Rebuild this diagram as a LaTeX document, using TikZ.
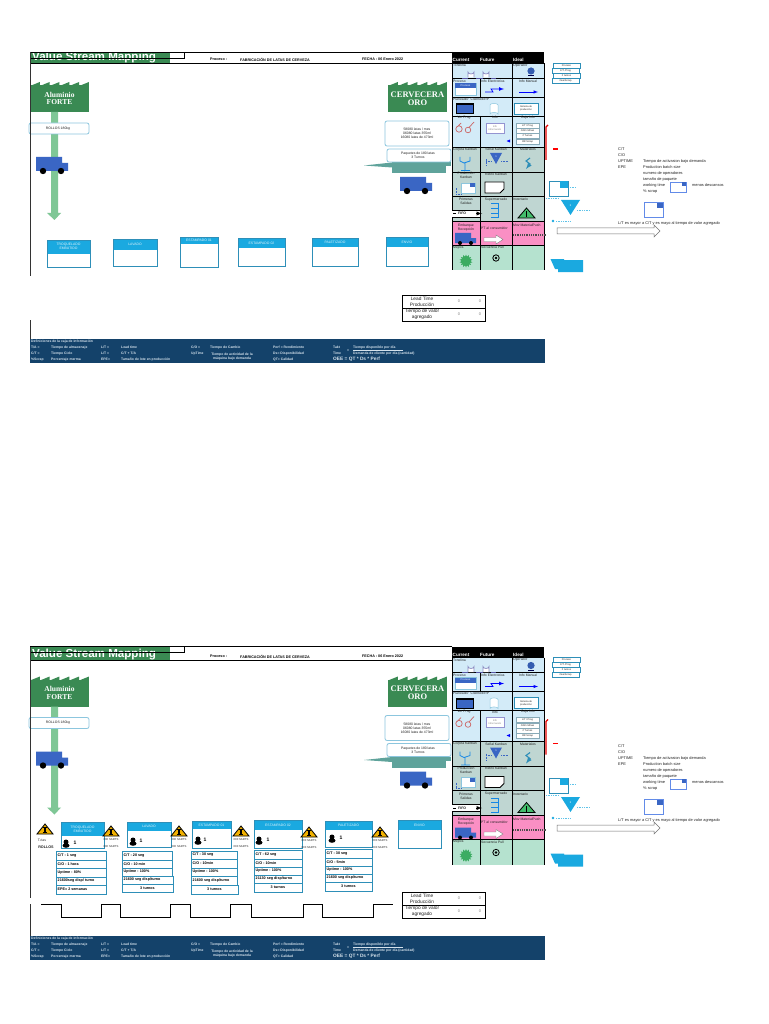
\documentclass[tikz,border=0pt]{standalone}
\usepackage{fontspec}
\setmainfont{Liberation Sans}
\newfontfamily\serifF{Liberation Serif}
\usetikzlibrary{shapes.geometric}
\definecolor{fgreen}{HTML}{3A8A53}
\definecolor{agreen}{HTML}{7FC796}
\definecolor{tblue}{HTML}{3A66C4}
\definecolor{hdr}{HTML}{1AA9E0}
\definecolor{pbd}{HTML}{2E8FB8}
\definecolor{lbd}{HTML}{8CC6DE}
\definecolor{teal}{HTML}{5FA39B}
\definecolor{navy}{HTML}{14426A}
\definecolor{rowa}{HTML}{D3EBF8}
\definecolor{rowb}{HTML}{BFD6D2}
\definecolor{rowc}{HTML}{FA8FC4}
\definecolor{rowd}{HTML}{B5E2CF}
\definecolor{ink}{HTML}{222222}
\definecolor{navt}{HTML}{D5E2EC}
\definecolor{inv}{HTML}{F2B200}
\newcounter{nc}
\newcommand\Lb[4]{\stepcounter{nc}\node[#1] (t\arabic{nc}) at ({#2},{#3}) {#4};}
\tikzset{
 lw/.style={anchor=west,inner sep=0pt,text=ink},
 lc/.style={anchor=center,inner sep=0pt,align=center,text=ink},
 fa/.style={font=\fontsize{3.4}{4}\selectfont},
 fb/.style={font=\fontsize{3.9}{4.6}\selectfont},
 fc/.style={font=\fontsize{4.8}{6}\selectfont},
 bb/.style={font=\bfseries\fontsize{3.7}{4.2}\selectfont},
 nt/.style={anchor=west,inner sep=0pt,text=navt,font=\bfseries\fontsize{3.4}{4}\selectfont},
 grid/.style={draw=black,line width=0.8pt},
 pbox/.style={draw=pbd,line width=0.8pt},
 rbox/.style={draw=lbd,line width=0.8pt,fill=white,rounded corners=2pt},
 dbox/.style={draw=pbd,line width=0.8pt,fill=white},
}
% truck: top-left x,y
\newcommand\truck[2]{%
 \fill[tblue] (#1,#2) -- ++(26,0) -- ++(0,6) -- ++(6,0) -- ++(0,8) -- ++(-32,0) -- cycle;
 \fill[black] (#1+7,#2+14) circle (3.2) (#1+25,#2+14) circle (3.2);
}
% factory
\newcommand\factory[4]{%
 \fill[fgreen] (#1,85.5) rectangle (#1+59,112);
 \foreach \i in {0,...,5}{\fill[fgreen] (#1+\i*9.83,86) -- (#1+\i*9.83+9.83,82) -- (#1+\i*9.83+9.83,86) -- cycle;}
 \Lb{lc,text=white,font=\serifF\bfseries\fontsize{#4}{8}\selectfont}{#1+29.5}{94.5}{#2}
 \Lb{lc,text=white,font=\serifF\bfseries\fontsize{#4}{8}\selectfont}{#1+29.5}{102.5}{#3}
}
\newcommand\procbox[6]{%
 \fill[white] (#1,#2) rectangle (#3,#4);
 \fill[hdr] (#1,#2) rectangle (#3,#5);
 \draw[pbox] (#1,#2) rectangle (#3,#4);
 \Lb{lc,text=white!85!hdr,fa}{(#1+#3)/2}{(#2+#5)/2}{#6}
}
\newcommand\invt[2]{%
 \fill[inv,draw=black,line width=0.8pt] (#1-8,#2+10) -- (#1,#2) -- (#1+8,#2+10) -- cycle;
 \fill[black] (#1-0.8,#2+3.5) rectangle (#1+0.8,#2+9);
 \fill[black] (#1-2.2,#2+3.2) rectangle (#1+2.2,#2+4.2);
 \fill[black] (#1-2.2,#2+8.2) rectangle (#1+2.2,#2+9.2);
}
\newcommand\oper[3]{%
 \fill[black] (#1,#2-1) circle (2.5);
 \fill[black] (#1,#2+2.6) ellipse (3.5 and 2.2);
 \Lb{lc,font=\bfseries\fontsize{5}{6}\selectfont,text=black}{#3}{#2}{1}
}
\newcommand\dr[5]{%
 \draw[dbox] (#1,#3) rectangle (#2,#4);
 \Lb{lw,text=black,bb}{#1+1.5}{(#3+#4)/2}{#5}
}
\newcommand\drc[5]{%
 \draw[dbox] (#1,#3) rectangle (#2,#4);
 \Lb{lc,text=black,bb}{(#1+#2)/2}{(#3+#4)/2}{#5}
}
% page base
\newcommand\pagebase[2]{%
 \fill[fgreen] (30,52) rectangle (170,#1);
 \begin{scope}
  \clip (30,52) rectangle (184,#1);
  \Lb{anchor=base west,inner sep=0pt,text=white,font=\bfseries\fontsize{11.6}{12}\selectfont}{32}{#2}{Value Stream Mapping}
 \end{scope}
 \draw[black,line width=0.8pt] (30,52) rectangle (184,58);
 \draw[black,line width=0.9pt] (30,52) -- (452,52) (30,#1) -- (452,#1);
 \Lb{lw,text=black,bb}{210}{#1-3.3}{Proceso :}
 \Lb{lw,text=black,bb}{240}{#1-3.3}{FABRICACIÓN DE LATAS DE CERVEZA}
 \Lb{lw,text=black,bb}{362}{#1-3.3}{FECHA : 06 Enero 2022}
 \factory{30}{Aluminio}{FORTE}{7.5}
 \factory{388}{CERVECERA}{ORO}{8.5}
 \fill[agreen] (51,112) -- (58,112) -- (58,213) -- (61,213) -- (54.5,220) -- (47,213) -- (51,213) -- cycle;
 \draw[rbox] (29,123) rectangle (89,134);
 \Lb{lc,fa}{58}{128.5}{ROLLOS 180kg}
 \truck{36}{157}
 \draw[rbox] (385,121) rectangle (449,146);
 \Lb{lc,fa}{417}{133.5}{58080 latas / mes\\06080 latas 355ml\\16080 latas de 473ml}
 \fill[teal] (392,162) rectangle (446,173);
 \fill[teal] (364,165.5) -- (392,162.5) -- (392,167.5) -- cycle;
 \fill[teal] (446,162) rectangle (451,166);
 \draw[rbox] (387,149) rectangle (451,162);
 \Lb{lc,fa}{418}{155.5}{Paquetes de 180 latas\\3 Turnos}
 \truck{400}{177}
}
% legend table
\newcommand\legend{%
 \fill[rowa] (452,63) rectangle (544,147);
 \fill[rowb] (452,147) rectangle (544,221);
 \fill[rowc] (452,221) rectangle (544,245);
 \fill[rowd] (452,245) rectangle (544,270);
 \fill[black] (452,52) rectangle (544,63);
 \foreach \yy in {63,78,97,116,147,172,196,221,245}{\draw[grid] (452,\yy) -- (544,\yy);}
 \draw[grid] (452,52) -- (452,270) (512,63) -- (512,270) (544,63) -- (544,270) (480,78) -- (480,97) (480,116) -- (480,270);
 \Lb{lw,text=white,font=\bfseries\fontsize{4.6}{5}\selectfont}{452.5}{60}{Current}
 \Lb{lw,text=white,font=\bfseries\fontsize{4.6}{5}\selectfont}{480}{60}{Future}
 \Lb{lw,text=white,font=\bfseries\fontsize{4.6}{5}\selectfont}{513}{60}{Ideal}
 \Lb{lw,fa}{453}{65.5}{Tonelina}
 \Lb{lw,fa}{513}{65.5}{Operador}
 \draw[gray!70!blue,line width=0.4pt] (462,78) -- (468,78) (476,78) -- (483,78) (491,78) -- (496,78);
 \draw[gray!70!blue!70,line width=0.7pt,fill=white] (468,77.5) -- (468,72) arc (180:0:3 and 2) -- (474,77.5);
 \draw[gray!70!blue!70,line width=0.7pt,fill=white] (483,77.5) -- (483,72) arc (180:0:3 and 2) -- (489,77.5);
 \fill[tblue!90!black] (531,71) circle (3.6);
 \fill[black!70!blue] (528,75.2) rectangle (534,76.5);
 \Lb{lw,fa}{453}{81}{Proceso}
 \Lb{lw,fa}{481}{81}{Info Electronica}
 \Lb{lw,fa}{519}{81}{Info Manual}
 \draw[lbd,fill=white,line width=0.5pt] (455,83) rectangle (476,95);
 \fill[tblue] (455,83) rectangle (476,88);
 \Lb{lc,text=white,font=\fontsize{2.6}{3}\selectfont}{465.5}{85.5}{Proceso}
 \draw[blue,line width=0.7pt,-latex] (485,92) -- (493,92) -- (491,89) -- (504,89);
 \draw[blue,line width=0.5pt,-latex] (519,92) -- (538,92);
 \Lb{lw,fa}{453}{99}{Planeador\ \ Cliente/ERP}
 \fill[black] (456,103) rectangle (474,114.5);
 \fill[tblue] (457,105) rectangle (473,113.5);
 \draw[lbd,fill=white,line width=0.5pt] (490,105) -- (490,114) arc (180:360:4 and 1.6) -- (498,105) arc (0:180:4 and -1.6) -- cycle;
 \draw[pbd,fill=white,line width=0.6pt] (514,103) rectangle (538,114);
 \Lb{lc,font=\fontsize{2.4}{2.9}\selectfont}{526}{108.5}{Sistema de\\producción}
 \Lb{lc,fa}{464}{117.5}{Ver Prog}
 \Lb{lc,fa}{495}{117.5}{Info}
 \Lb{lc,fa}{528}{117.5}{Caja Info}
 \draw[red!50!gray!80,line width=0.7pt] (459,129) circle (3.2) (468,130) circle (2.8) (457,127) -- (461,123) (469,127.5) -- (474,122);
 \draw[gray!60!blue!60,fill=white,line width=0.7pt] (486,123) rectangle (504,133);
 \Lb{lc,font=\fontsize{2.4}{2.9}\selectfont,text=gray}{495}{128}{Info\\Información}
 \fill[blue] (510,139.5) -- (506.5,141) -- (510,142.5) -- cycle;
 \foreach \yy/\lbl in {123/{L/T / Prog},128.3/{Cd/m Minas},133.5/{\# Turnos},138.8/{OR Scrap}}{
  \draw[lbd!60!gray,fill=white,line width=0.5pt] (516,\yy) rectangle (539,\yy+5.2);
  \Lb{lc,font=\fontsize{2.5}{3}\selectfont}{527.5}{\yy+2.6}{\lbl}
 }
 \Lb{lc,fa}{465}{149.5}{Corpita Kanban}
 \Lb{lc,fa}{496}{149.5}{Señal Kanban}
 \Lb{lc,fa}{528}{149.5}{Materiales}
 \draw[hdr!80!blue,line width=0.8pt] (460,157) -- (460,161) -- (464,163) -- (470,161) -- (470,157) (465,163) -- (465,170) (461,170.5) -- (470,170.5);
 \fill[tblue] (490,153) -- (502,153) -- (496,164) -- cycle;
 \draw[tblue,densely dotted,line width=0.5pt] (486,159) -- (486,166) (486,161) -- (491,161) (501,161) -- (508,161);
 \Lb{lc,text=white,font=\fontsize{2.6}{3}\selectfont}{496}{156.5}{1}
 \draw[pbd,line width=1.1pt,-latex] (530,158) -- (526,161) -- (530,164) -- (526,169);
 \Lb{lc,fa}{466}{175.5}{Producción\\Kanban}
 \Lb{lc,fa}{496}{174}{Retiro Kanban}
 \draw[lbd,fill=white,line width=0.7pt] (461,183) rectangle (475,193);
 \fill[tblue] (470,183) rectangle (475,187);
 \draw[tblue,densely dotted,line width=0.5pt] (456,188) -- (456,194) -- (461,194);
 \draw[black,fill=white,line width=0.9pt] (485,182) -- (504,182) -- (504,189) -- (500,193) -- (485,193) -- cycle;
 \Lb{lc,fa}{466}{201.5}{Primeras\\Salidas}
 \Lb{lc,fa}{496}{199.5}{Supermercado}
 \Lb{lw,fa}{513}{199.5}{Inventario}
 \fill[white] (452,210) rectangle (480,217);
 \draw[black,line width=0.9pt] (452,210) -- (480,210) (452,217) -- (480,217);
 \Lb{lw,font=\bfseries\fontsize{3.5}{4}\selectfont}{458}{213.5}{FIFO}
 \draw[black,line width=0.9pt,-latex] (476,213.5) -- (482,213.5);
 \draw[black,line width=0.9pt] (453,213.5) -- (456,213.5);
 \draw[hdr!80!blue,line width=0.9pt] (491,203.5) -- (498,203.5) -- (498,217.5) -- (491,217.5) (491,208) -- (498,208) (491,213) -- (498,213);
 \fill[teal!70!green,draw=black,line width=0.8pt] (518,218) -- (526.5,208) -- (535,218) -- cycle;
 \fill[black] (525.8,211) rectangle (527.2,217);
 \Lb{lc,fa}{466}{227.5}{Embarque\\Recepción}
 \Lb{lw,fa}{481}{228}{PT al consumidor}
 \Lb{lw,fa}{513}{225}{Mov Material\\Push}
 \fill[tblue] (455,233) -- (471,233) -- (471,238) -- (476,238) -- (476,243) -- (455,243) -- cycle;
 \fill[black] (460,243) circle (2) (471,243) circle (2);
 \draw[gray,fill=white,line width=0.4pt] (484,237.5) -- (496,237.5) -- (496,235) -- (503,239.5) -- (496,244) -- (496,241.5) -- (484,241.5) -- cycle;
 \draw[black!70,line width=2pt,dash pattern=on 1pt off 0.8pt] (513,235) -- (547,235);
 \Lb{lw,fa}{453}{247.5}{Mejora}
 \Lb{lw,fa}{481}{247.5}{Secuencia Pull}
 \stepcounter{nc}\node[star,star points=14,star point ratio=1.45,fill=teal!70!green!90!black,inner sep=0pt,minimum size=13pt] (t\arabic{nc}) at (466,261) {};
 \draw[black,line width=0.8pt] (496,258) circle (3.2);
 \fill[black] (496,258) circle (1.3);
 % right-of-table swatches
 \foreach \yy/\xx/\lbl in {63/553/Proceso,68/552/{C/T /Prog},73/553/{\# turnos},78/552/{Oee/Scrap}}{
  \draw[pbd,fill=white,line width=0.5pt] (\xx,\yy) rectangle (\xx+27,\yy+5);
  \Lb{lc,font=\fontsize{2.5}{3}\selectfont}{\xx+13.5}{\yy+2.5}{\lbl}
 }
 \draw[red!90!black,line width=1.1pt] (546,160) -- (546,127) -- (548,125);
 \fill[red] (553,148.5) rectangle (558,149.7);
 \fill[hdr] (550.5,259) -- (564,259) -- (564,260) -- (583,260) -- (583,272) -- (558,272) -- (558,269) -- (555,269) -- cycle;
}
% right-hand notes
\newcommand\notes{%
 \Lb{lw,fb}{618}{149}{C/T}
 \Lb{lw,fb}{618}{155}{C/O}
 \Lb{lw,fb}{618}{161}{UPTIME}
 \Lb{lw,fb}{618}{167}{EPE}
 \Lb{lw,fb}{643}{161}{Tiempo de activasion bajo demanda}
 \Lb{lw,fb}{643}{167}{Production batch size}
 \Lb{lw,fb}{643}{173}{numero de operadores}
 \Lb{lw,fb}{643}{179}{tamaño de paquete}
 \Lb{lw,fb}{643}{185}{working time}
 \Lb{lw,fb}{692}{185}{menos descansos}
 \Lb{lw,fb}{643}{191.5}{\% scrap}
 \draw[lbd!70!blue,fill=white,line width=0.5pt] (670,182) rectangle (686,192);
 \fill[tblue] (682,182) rectangle (686,186);
 \draw[lbd!70!blue,fill=white,line width=0.7pt] (644,202) rectangle (663,217);
 \fill[tblue] (657,203) rectangle (662.5,208);
 \draw[pbd,fill=white,line width=0.9pt] (549,181) rectangle (568,196);
 \fill[hdr] (560,181) rectangle (568,188);
 \draw[hdr!70,densely dotted,line width=0.7pt] (570,187) -- (576,187);
 \draw[hdr!70,densely dotted,line width=0.7pt] (546,198) -- (558,198);
 \fill[hdr] (561,200) -- (580,200) -- (570.5,215) -- cycle;
 \Lb{lc,text=white,font=\fontsize{3}{3.5}\selectfont}{570.5}{205}{1}
 \draw[hdr!70,densely dotted,line width=0.7pt] (577,210) -- (590,210);
 \fill[hdr] (553,221) circle (1.3);
 \draw[hdr!70,densely dotted,line width=0.7pt] (556,221) -- (570,221);
 \Lb{lw,fb}{618}{223}{L/T es mayor a C/T y es mayo al tiempo de valor agregado}
 \draw[black!55,fill=white,line width=0.5pt] (557,228) -- (654,228) -- (654,225) -- (660,231) -- (654,237) -- (654,234) -- (557,234) -- cycle;
}
\newcommand\leadtab{%
 \draw[black,line width=0.9pt,fill=white] (402,295) rectangle (485,321);
 \draw[black,line width=0.9pt] (402,308) -- (485,308);
 \Lb{lc,fc}{422}{301.5}{Lead Time\\Producción}
 \Lb{lc,fc}{422}{314.5}{Tiempo de valor\\agregado}
 \Lb{lc,fb,text=gray}{459}{301.5}{0}
 \Lb{lc,fb,text=gray}{480}{301.5}{0}
 \Lb{lc,fb,text=gray}{459}{314.5}{0}
 \Lb{lc,fb,text=gray}{480}{314.5}{0}
}
\newcommand\navyband{%
 \fill[navy] (30,339) rectangle (545,362.5);
 \Lb{nt}{31}{341.5}{Definiciones de la caja de información}
 \Lb{nt}{31}{347.5}{T/A =}\Lb{nt}{51}{347.5}{Tiempo de almacenaje}
 \Lb{nt}{101}{347.5}{L/T =}\Lb{nt}{121}{347.5}{Lead time}
 \Lb{nt}{191}{347.5}{C/O =}\Lb{nt}{210}{347.5}{Tiempo de Cambio}
 \Lb{nt}{273}{347.5}{Perf = Rendimiento}
 \Lb{nt}{333}{347.5}{Takt}\Lb{nt}{353}{347.5}{Tiempo disponible por día}
 \draw[navt,line width=0.3pt] (353,349.7) -- (403,349.7);
 \Lb{nt}{347}{350.5}{=}
 \Lb{nt}{31}{353.5}{C/T =}\Lb{nt}{51}{353.5}{Tiempo Ciclo}
 \Lb{nt}{101}{353.5}{L/T =}\Lb{nt}{121}{353.5}{C/T + T/A}
 \Lb{nt}{191}{353.5}{UpTime}
 \Lb{nt}{273}{353.5}{Ds= Disponibilidad}
 \Lb{nt}{333}{353.5}{Time}\Lb{nt}{353}{353.5}{Demanda de cliente por día (cantidad)}
 \Lb{nt}{31}{359.3}{\%Scrap}\Lb{nt}{51}{359.3}{Porcentaje merma}
 \Lb{nt}{101}{359.3}{EPE=}\Lb{nt}{121}{359.3}{Tamaño de lote en producción}
 \Lb{nt,align=center,anchor=center}{232}{356.3}{Tiempo de actividad de la\\máquina bajo demanda}
 \Lb{nt}{273}{359.3}{QT= Calidad}
 \Lb{nt,font=\bfseries\fontsize{4.8}{5}\selectfont}{333}{359.3}{OEE = QT * Ds * Perf}
}
\begin{document}
\begin{tikzpicture}[x=1pt,y=-1pt]
\useasboundingbox (0,0) rectangle (768,1024);
\fill[white] (0,0) rectangle (768,1024);
% ===== top page =====
\pagebase{63}{60.5}
\draw[black!80,line width=0.9pt] (30,52) -- (30,276) (30,320) -- (30,339);
\procbox{47}{240}{90}{267}{253.5}{TROQUELADO\\EMBUTIDO}
\procbox{113}{239}{157}{266}{250}{LAVADO}
\procbox{180}{237}{218}{267}{244}{ESTAMPADO 01}
\procbox{238}{238}{285}{266}{248}{ESTAMPADO 02}
\procbox{312}{238}{358}{266}{247}{PALETIZADO}
\procbox{386}{237}{428}{266}{247}{ENVIO}
\legend
\notes
\leadtab
\navyband
% ===== bottom page =====
\begin{scope}[shift={(0,594.5)}]
\pagebase{65.5}{62.5}
\legend
\end{scope}
\draw[black!80,line width=0.9pt] (30,647) -- (30,898) (30,904) -- (30,936);
\begin{scope}[shift={(0,597)}]
\notes
\leadtab
\navyband
\end{scope}
\procbox{61}{822}{104}{848}{836}{TROQUELADO\\EMBUTIDO}
\procbox{127}{822}{171}{847}{831}{LAVADO}
\procbox{192}{821}{231}{848}{829}{ESTAMPADO 01}
\procbox{254}{820}{302}{848}{830}{ESTAMPADO 02}
\procbox{325}{821}{372}{847}{830}{PALETIZADO}
\procbox{398}{820}{441}{848}{830}{ENVIO}
\invt{45}{824}\invt{111}{826}\invt{179}{826}\invt{241}{826}\invt{309}{827}\invt{380}{827}
\Lb{lc,fa}{42}{840}{T.rias}
\Lb{lc,bb}{46}{847}{ROLLOS}
\foreach \xx/\yy in {111/840,179/840,241/840,309/841,380/841}{
 \Lb{lc,font=\fontsize{2.8}{3.2}\selectfont}{\xx}{\yy}{000 SARTS}
 \Lb{lc,font=\fontsize{2.8}{3.2}\selectfont}{\xx}{\yy+6.5}{000 SARTS}
}
\oper{66}{843}{75}
\oper{133}{841}{141}
\oper{198}{840}{205}
\oper{259}{840}{268}
\oper{332}{838}{341}
% data columns
\dr{56}{106}{851}{860}{C/T : 1 seg}
\dr{56}{106}{860}{868}{C/O : 1 hora}
\dr{56}{106}{868}{877}{Uptime : 80\%}
\dr{56}{106}{877}{885}{21600seg disp/ turno}
\dr{56}{106}{885}{894}{EPE= 2 semanas}
\dr{122}{172}{851}{860}{C/T : 20 seg}
\dr{122}{172}{860}{868}{C/O : 10 min}
\dr{122}{172}{868}{876}{Uptime : 100\%}
\dr{122}{173}{876}{884}{21600 seg disp/turno}
\drc{122}{173}{884}{892}{3 turnos}
\dr{191}{237}{851}{859}{C/T : 30 seg}
\dr{191}{237}{859}{868}{C/O : 10min}
\dr{191}{237}{868}{876}{Uptime : 100\%}
\dr{191}{237}{876}{885}{21600 seg disp/turno}
\drc{191}{238}{885}{894}{3 turnos}
\dr{254}{302}{850}{859}{C/T : 62 seg}
\dr{254}{302}{859}{867}{C/O : 10min}
\dr{254}{302}{867}{875}{Uptime : 100\%}
\dr{254}{302}{875}{883}{21130 seg disp/turno}
\drc{254}{302}{883}{892}{3 turnos}
\dr{325}{372}{849}{858}{C/T : 30 seg}
\dr{325}{372}{858}{866}{C/O : 5min}
\dr{325}{372}{866}{874}{Uptime : 100\%}
\dr{325}{372}{874}{882}{21600 seg disp/turno}
\drc{325}{372}{882}{891}{3 turnos}
% timeline
\draw[black,line width=0.8pt] (41,904) -- (61,904) -- (61,917) -- (101,917) -- (101,904) -- (120,904) -- (120,917) -- (170,917) -- (170,904) -- (190,904) -- (190,917) -- (230,917) -- (230,904) -- (251,904) -- (251,917) -- (303,917) -- (303,904) -- (322,904) -- (322,917) -- (373,917) -- (373,904) -- (393,904);
\end{tikzpicture}
\end{document}
